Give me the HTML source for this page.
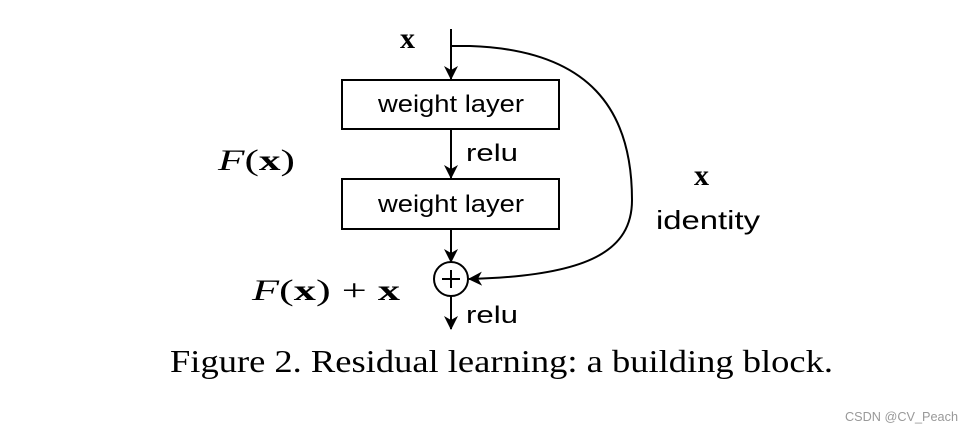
<!DOCTYPE html>
<html><head><style>
body{margin:0;background:#fff;}
svg{display:block}
</style></head><body>
<svg width="974" height="433" xmlns="http://www.w3.org/2000/svg">
<defs><marker id="a" markerWidth="14" markerHeight="14" refX="13" refY="7" orient="auto" markerUnits="userSpaceOnUse"><path d="M0,0 L14,7 L0,14 L4,7 z" fill="#000"/></marker></defs>
<g stroke="#000" stroke-width="2" fill="none">
<line x1="451" y1="29" x2="451" y2="79" marker-end="url(#a)"/>
<rect x="342" y="80" width="217" height="49"/>
<line x1="451" y1="129" x2="451" y2="178" marker-end="url(#a)"/>
<rect x="342" y="179" width="217" height="50"/>
<line x1="451" y1="229" x2="451" y2="262" marker-end="url(#a)"/>
<circle cx="451" cy="279" r="17"/>
<line x1="442" y1="279" x2="460" y2="279"/>
<line x1="451" y1="270" x2="451" y2="288"/>
<line x1="451" y1="296" x2="451" y2="329" marker-end="url(#a)"/>
<path d="M451,46 L470,46 C590,50 632,110 632,200 C632,250 590,276 469,279" marker-end="url(#a)"/>
</g>
<g font-family="Liberation Sans, sans-serif" font-size="24" fill="#000">
<text x="378" y="112" textLength="146" lengthAdjust="spacingAndGlyphs">weight layer</text>
<text x="378" y="212" textLength="146" lengthAdjust="spacingAndGlyphs">weight layer</text>
<text x="466" y="161" textLength="52" lengthAdjust="spacingAndGlyphs">relu</text>
<text x="466" y="323" textLength="52" lengthAdjust="spacingAndGlyphs">relu</text>
<text x="656" y="229" font-size="26" textLength="104" lengthAdjust="spacingAndGlyphs">identity</text>
</g>
<g font-family="Liberation Serif, serif" font-size="30" fill="#000">
<text x="400" y="48" font-weight="bold">x</text>
<text x="694" y="185" font-weight="bold">x</text>
<text x="218" y="170" textLength="77" lengthAdjust="spacingAndGlyphs"><tspan font-style="italic">F</tspan>(<tspan font-weight="bold">x</tspan>)</text>
<text x="252" y="300" textLength="148" lengthAdjust="spacingAndGlyphs"><tspan font-style="italic">F</tspan>(<tspan font-weight="bold">x</tspan>) + <tspan font-weight="bold">x</tspan></text>
<text x="170" y="372" font-size="32" textLength="663" lengthAdjust="spacingAndGlyphs">Figure 2. Residual learning: a building block.</text>
</g>
<text x="845" y="421" font-family="Liberation Sans, sans-serif" font-size="13" fill="#999" textLength="113" lengthAdjust="spacingAndGlyphs">CSDN @CV_Peach</text>
</svg>
</body></html>
